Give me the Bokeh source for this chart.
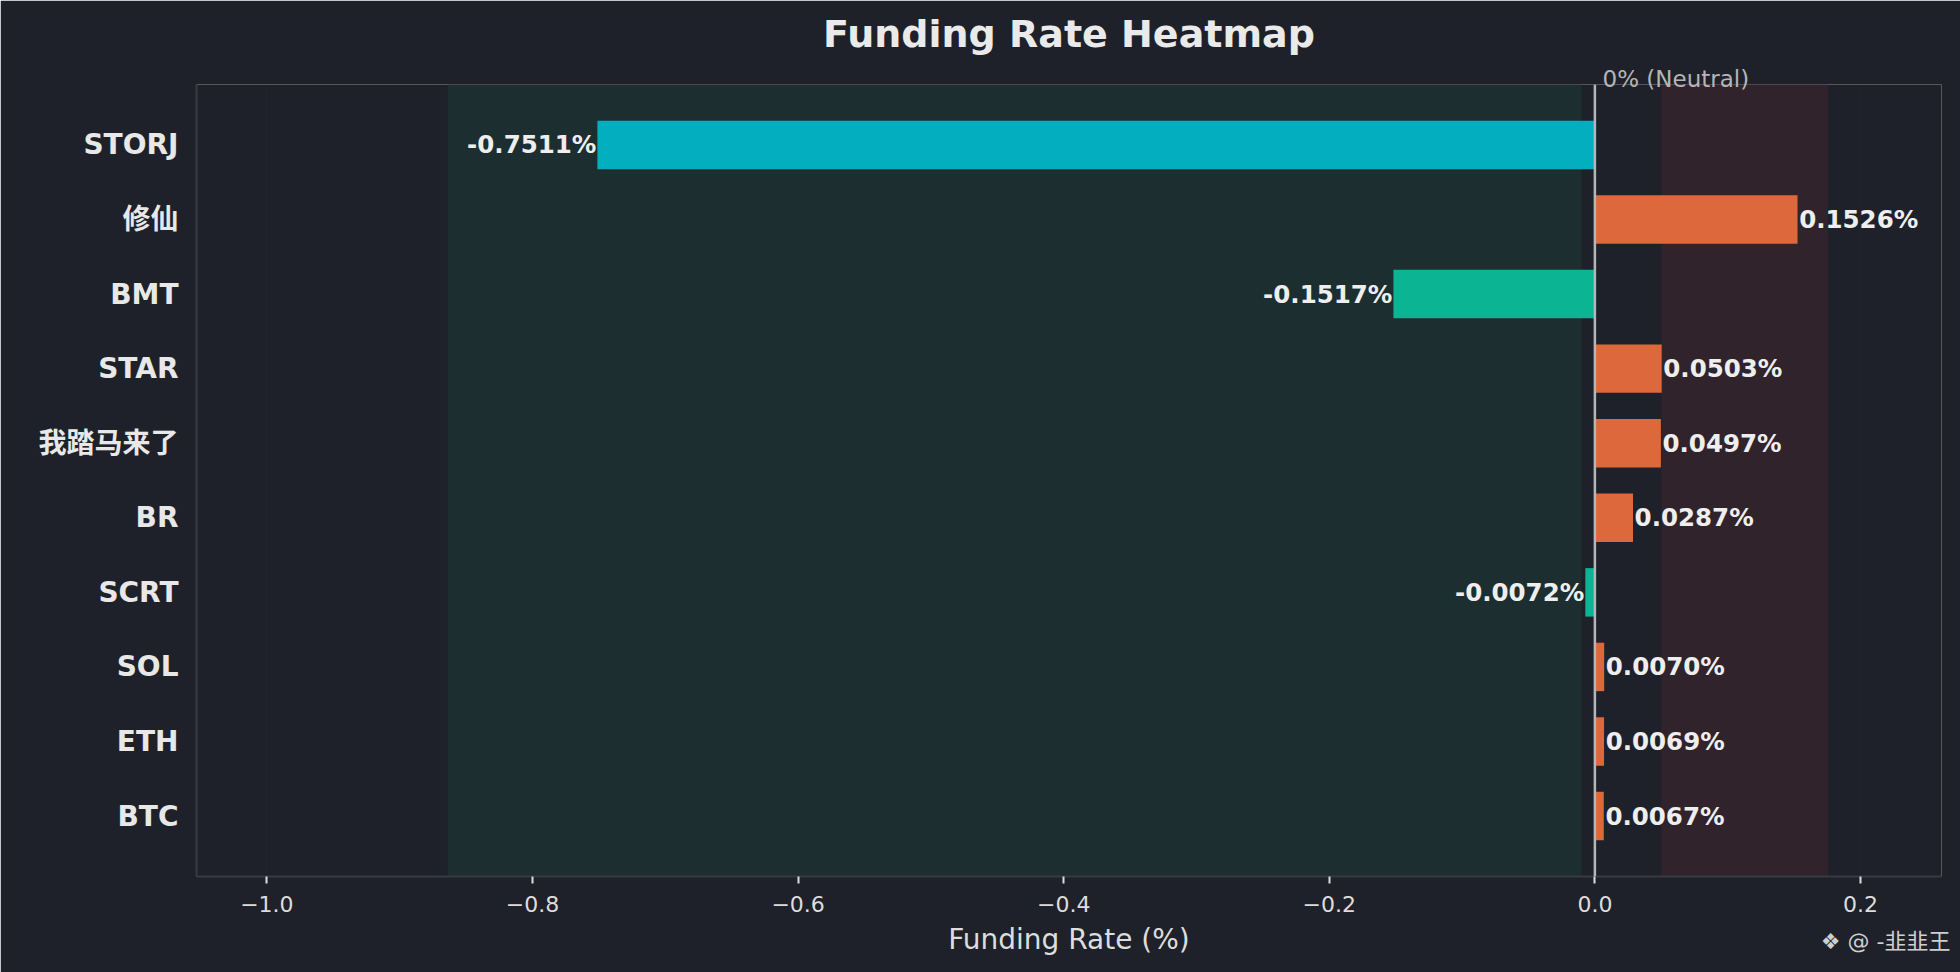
from bokeh.plotting import figure
from bokeh.models import Range1d, FixedTicker, Title, BoxAnnotation, Span, ColumnDataSource
from bokeh.embed import file_html
from bokeh.resources import INLINE
from bokeh.core.properties import value

# ---- data ----
symbols = ["STORJ", "修仙", "BMT", "STAR", "我踏马来了", "BR", "SCRT", "SOL", "ETH", "BTC"]
rates = [-0.7511, 0.1526, -0.1517, 0.0503, 0.0497, 0.0287, -0.0072, 0.0070, 0.0069, 0.0067]
xticks = [-1.0, -0.8, -0.6, -0.4, -0.2, 0.0, 0.2]
xtick_labels = ["−1.0", "−0.8", "−0.6", "−0.4", "−0.2", "0.0", "0.2"]
title_text = "Funding Rate Heatmap"
xlabel_text = "Funding Rate (%)"
neutral_text = "0% (Neutral)"
watermark_text = "❖ @ -韭韭王"

# ---- styles ----
BG = "#1E2129"
FONT = "DejaVu Sans, Noto Sans CJK SC"
C_POS = "#DD683C"
C_NEG = "#0BB593"
C_NEG_STRONG = "#03AFBF"

n = len(symbols)
ypos = [n - 1 - i for i in range(n)]
colors = [C_NEG_STRONG if r < -0.5 else (C_NEG if r < 0 else C_POS) for r in rates]
labels = [f"{r:.4f}%" for r in rates]
lx = [r + 0.0012 if r >= 0 else r - 0.0008 for r in rates]
aligns = ["left" if r >= 0 else "right" for r in rates]

src = ColumnDataSource(dict(y=ypos, right=rates, color=colors, label=labels, lx=lx, align=aligns))

xmin, xmax = -1.053, 0.261
ymin, ymax = -0.81, 9.81

p = figure(width=1960, height=972, x_range=Range1d(xmin, xmax), y_range=Range1d(ymin, ymax),
           output_backend="svg", toolbar_location=None,
           min_border_left=196, min_border_right=19, min_border_top=84, min_border_bottom=96)
p.title = None
p.background_fill_color = BG
p.border_fill_color = BG
p.outline_line_color = None

# shaded zones
zmin = min(rates) * 1.15
zmax = max(rates) * 1.15
p.add_layout(BoxAnnotation(left=zmin, right=-0.01, fill_color="#1C2E2F", fill_alpha=1.0,
                           line_color=None, level="underlay"))
p.add_layout(BoxAnnotation(left=0.05, right=zmax, fill_color="#30232C", fill_alpha=1.0,
                           line_color=None, level="underlay"))

# bars
p.hbar(y="y", left=0, right="right", height=0.65, color="color", source=src, line_color=None)

# zero line
p.add_layout(Span(location=0, dimension="height", line_color="#B4B6BA", line_width=2.5))

# value labels
p.text(x="lx", y="y", text="label", text_align="align", text_baseline="middle",
       text_font=value(FONT), text_font_style="bold", text_font_size="24.5px",
       text_color="#EEEEEE", source=src)

# grid
p.ygrid.grid_line_color = None
p.xgrid.ticker = FixedTicker(ticks=xticks)
p.xgrid.grid_line_color = "#2C3038"
p.xgrid.grid_line_dash = "1 3"
p.xgrid.grid_line_width = 1

# x axis
xa = p.xaxis[0]
xa.ticker = FixedTicker(ticks=xticks)
xa.major_label_overrides = {t: l for t, l in zip(xticks, xtick_labels)}
xa.axis_line_color = "#363B44"
xa.axis_line_width = 2
xa.major_tick_line_color = "#DDDDDD"
xa.major_tick_line_width = 2
xa.major_tick_out = 7
xa.major_tick_in = 0
xa.minor_tick_line_color = None
xa.major_label_text_font = FONT
xa.major_label_text_font_size = "22px"
xa.major_label_text_color = "#DDDDDD"
xa.major_label_standoff = 12
xa.axis_label = xlabel_text
xa.axis_label_text_font = FONT
xa.axis_label_text_font_style = "normal"
xa.axis_label_text_font_size = "28px"
xa.axis_label_text_color = "#DDDDDD"
xa.axis_label_standoff = 8

# y axis
ya = p.yaxis[0]
ya.ticker = FixedTicker(ticks=ypos)
ya.major_label_overrides = {y: s for y, s in zip(ypos, symbols)}
ya.axis_line_color = "#363B44"
ya.axis_line_width = 2
ya.major_tick_line_color = None
ya.major_tick_out = 0
ya.major_tick_in = 0
ya.minor_tick_line_color = None
ya.major_label_text_font = FONT
ya.major_label_text_font_style = "bold"
ya.major_label_text_font_size = "28px"
ya.major_label_text_color = "#E8E8E8"
ya.major_label_standoff = 18

# neutral label (innermost above panel), a thin spacer, then main title
p.add_layout(Title(text=neutral_text, align="left", offset=1406, vertical_align="bottom",
                   standoff=-14, text_font=FONT, text_font_style="normal",
                   text_font_size="23px", text_color="#B5B5B5"), "above")
p.add_layout(Title(text=" ", standoff=0, text_font=FONT, text_font_size="4px",
                   text_color=BG), "above")
p.add_layout(Title(text=title_text, align="center", vertical_align="bottom", standoff=16,
                   text_font=FONT, text_font_style="bold", text_font_size="38px",
                   text_color="#EAEAEA"), "above")

# watermark
p.add_layout(Title(text=watermark_text, align="right", offset=-9, vertical_align="top",
                   standoff=-60, text_font=FONT, text_font_style="normal",
                   text_font_size="22px", text_color="#CFCFCF"), "below")

html = file_html(p, INLINE)
html = html.replace("<body>", '<body style="margin:0;background:#1E2129;">', 1)
open("out.html", "w").write(html)
